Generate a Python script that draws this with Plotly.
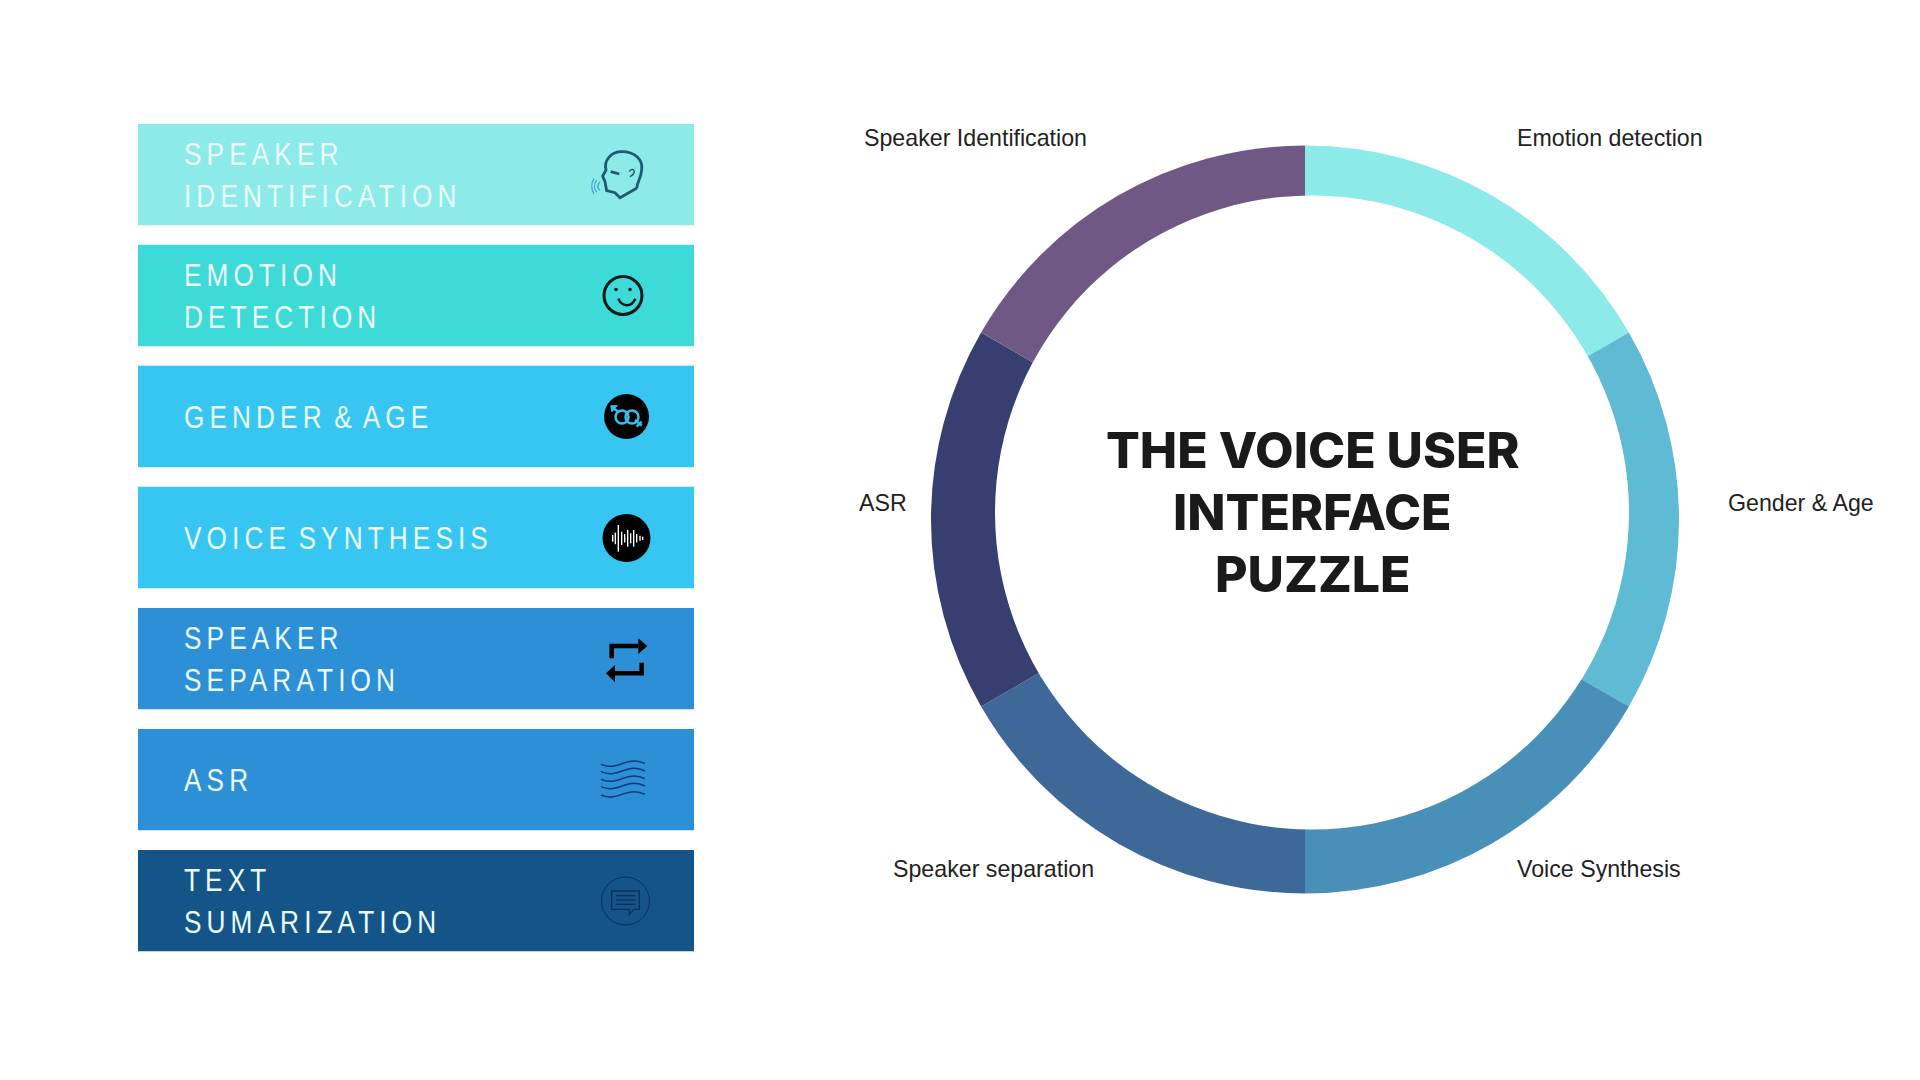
import plotly.graph_objects as go

W = 1920
H = 1080

# left column tiles
tile_labels = ["SPEAKER<br>IDENTIFICATION", "EMOTION<br>DETECTION", "GENDER & AGE", "VOICE SYNTHESIS",
               "SPEAKER<br>SEPARATION", "ASR", "TEXT<br>SUMARIZATION"]
tile_values = [1, 1, 1, 1, 1, 1, 1]
tile_colors = ["#8ceae8", "#3edad7", "#37c6f1", "#37c6f1", "#2d8fd5", "#2d8fd5", "#155489"]

# ring slices, clockwise from 12 o'clock
ring_labels = ["Emotion detection", "Gender & Age", "Voice Synthesis",
               "Speaker separation", "ASR", "Speaker Identification"]
ring_values = [1, 1, 1, 1, 1, 1]
ring_colors = ["#8ceae8", "#5fbad3", "#4890b7", "#3e6898", "#373f70", "#705885"]

title_lines = ["THE VOICE USER", "INTERFACE", "PUZZLE"]


def px(x, y):
    return x / W, 1 - y / H


def icon_path(ox, oy, s):
    # path written in 3x crop coordinates, converted to paper fractions
    out = []
    nums = []
    for tok in s.split():
        if tok.isalpha():
            out.append(tok)
        else:
            nums.append(float(tok))
            if len(nums) == 2:
                a, b = px(ox + nums[0] / 3, oy + nums[1] / 3)
                out.append(f"{a:.5f},{b:.5f}")
                nums = []
    return " ".join(out)


def line_shape(path, color, width, fill=None):
    d = dict(type="path", xref="paper", yref="paper", path=path, layer="above",
             line=dict(color=color, width=width))
    if fill:
        d["fillcolor"] = fill
    return d


def circle(cx, cy, r, fill=None, color=None, width=0):
    x0, y0 = px(cx - r, cy - r)
    x1, y1 = px(cx + r, cy + r)
    return dict(type="circle", xref="paper", yref="paper", x0=x0, y0=y0, x1=x1, y1=y1, layer="above",
                fillcolor=fill if fill else "rgba(0,0,0,0)",
                line=dict(color=color if color else "rgba(0,0,0,0)", width=width))


fig = go.Figure()

fig.add_trace(go.Bar(y=tile_labels, x=tile_values, orientation="h", marker=dict(color=tile_colors, line=dict(width=0)),
                     showlegend=False, hoverinfo="skip"))

cx, cy, R = 1305, 519.5, 374
fig.add_trace(go.Pie(labels=ring_labels, values=ring_values, sort=False, direction="clockwise", rotation=0,
                     marker=dict(colors=ring_colors, line=dict(width=0)), textinfo="none", showlegend=False,
                     hoverinfo="skip",
                     domain=dict(x=[(cx - R) / W, (cx + R) / W], y=[1 - (cy + R) / H, 1 - (cy - R) / H])))

shapes = [circle(1312, 512.5, 317, fill="#ffffff")]

# speaker head
head = "#1d5a72"
shapes.append(line_shape(icon_path(580, 150, "M 170 115 L 120 143 L 105 128 L 80 122 L 75 95 L 68 78 L 78 60 "
                                             "C 70 30 95 5 125 5 C 165 5 190 30 185 60 C 183 85 172 95 170 115"), head, 2.8))
shapes.append(line_shape(icon_path(580, 150, "M 92 65 L 118 72"), head, 2.8))
shapes.append(line_shape(icon_path(580, 150, "M 148 65 C 155 52 168 60 160 72 C 156 78 152 78 150 80"), head, 1.5))
shapes.append(line_shape(icon_path(580, 150, "M 60 95 C 52 105 52 115 60 122"), "#3f9fd0", 1.2))
shapes.append(line_shape(icon_path(580, 150, "M 50 90 C 42 103 42 118 50 127"), "#3f9fd0", 1.2))
shapes.append(line_shape(icon_path(580, 150, "M 42 85 C 33 100 33 120 42 132"), "#3f9fd0", 1.2))

# smile
shapes.append(circle(623, 295.5, 19, color="#0b1a1c", width=3))
shapes.append(circle(616, 289.5, 1.8, fill="#0b1a1c"))
shapes.append(circle(630, 289.5, 1.8, fill="#0b1a1c"))
shapes.append(line_shape(icon_path(590, 250, "M 85 146 C 95 172 125 172 136 146"), "#0b1a1c", 2.5))

# gender
shapes.append(circle(626.5, 416.5, 22.5, fill="#000000"))
g = "#38bdea"
shapes.append(circle(622, 417, 6.5, color=g, width=2.5))
shapes.append(circle(632, 417, 6.5, color=g, width=2.5))
shapes.append(line_shape(icon_path(590, 375, "M 85 110 L 68 98"), g, 2.5))
shapes.append(line_shape(icon_path(590, 375, "M 62 92 L 82 92 L 66 110 Z"), g, 1, fill=g))
shapes.append(line_shape(icon_path(590, 375, "M 135 135 L 155 152 M 140 155 L 155 140"), g, 2.5))

# voice
shapes.append(circle(626.5, 538, 24, fill="#000000"))
bar_xs = [68, 76, 85, 95, 104, 113, 122, 131, 140, 150, 158]
bar_hs = [20, 35, 80, 40, 25, 50, 30, 50, 25, 15, 10]
for bx, bh in zip(bar_xs, bar_hs):
    shapes.append(line_shape(icon_path(590, 500, f"M {bx} {115 - bh / 2} L {bx} {115 + bh / 2}"), "#ffffff", 1.4))

# arrows
shapes.append(line_shape(icon_path(590, 620, "M 65 115 L 65 78 L 145 78"), "#000000", 4.5))
shapes.append(line_shape(icon_path(590, 620, "M 145 55 L 172 78 L 145 102 Z"), "#000000", 0, fill="#000000"))
shapes.append(line_shape(icon_path(590, 620, "M 155 128 L 155 160 L 75 160"), "#000000", 4.5))
shapes.append(line_shape(icon_path(590, 620, "M 75 135 L 48 160 L 75 187 Z"), "#000000", 0, fill="#000000"))

# waves
for wy in [58, 80, 103, 125, 150]:
    shapes.append(line_shape(icon_path(590, 745, f"M 33 {wy} C 60 {wy + 12} 80 {wy + 4} 105 {wy - 5} "
                                                 f"C 125 {wy - 12} 145 {wy - 12} 165 {wy - 2}"), "#0c3a75", 1.5))

# chat
c = "#0c2f5e"
shapes.append(circle(625.5, 901, 24, color=c, width=1))
shapes.append(line_shape(icon_path(590, 865, "M 65 78 L 148 78 L 148 133 L 132 133 L 118 148 L 118 133 L 65 133 Z"), c, 1.3))
for ly in [92, 105, 118]:
    shapes.append(line_shape(icon_path(590, 865, f"M 78 {ly} L 135 {ly}"), c, 1.3))

annotations = []
for lab in tile_labels:
    annotations.append(dict(x=0.0785, y=lab, xref="x", yref="y", text=lab, showarrow=False, xanchor="left",
                            yanchor="middle", align="left", yshift=-0.5,
                            font=dict(family="Liberation Sans", size=32, color="#eafcfb")))

ring_label_pos = [(1514.5, 138), (1726, 503), (1515, 869), (890.5, 869), (856.5, 503), (862, 138)]
for lab, (lx, ly) in zip(ring_labels, ring_label_pos):
    a, b = px(lx, ly)
    annotations.append(dict(x=a, y=b, xref="paper", yref="paper", text=lab, showarrow=False, xanchor="left",
                            yanchor="middle", font=dict(family="Liberation Sans", size=23.2, color="#222222")))

title_ys = [450, 511.5, 573.5]
for line, ty in zip(title_lines, title_ys):
    a, b = px(1312.5, ty)
    annotations.append(dict(x=a, y=b, xref="paper", yref="paper", text=line, showarrow=False, xanchor="center",
                            yanchor="middle", font=dict(family="Inter", size=50, color="#1a1a1a", weight=800)))

fig.update_layout(
    width=W, height=H, margin=dict(l=0, r=0, t=0, b=0),
    paper_bgcolor="#ffffff", plot_bgcolor="#ffffff",
    bargap=0.162,
    xaxis=dict(domain=[138 / W, 694 / W], range=[0, 1], visible=False, fixedrange=True),
    yaxis=dict(domain=[1 - 951.4 / H, 1 - 123.7 / H], range=[6.419, -0.419], visible=False, type="category",
               categoryorder="array", categoryarray=tile_labels, fixedrange=True),
    shapes=shapes, annotations=annotations,
)

# the tile font is a narrow one with wide tracking: squeeze the text and add letter spacing after drawing
post = """
document.body.style.margin = '0';
document.body.style.overflow = 'hidden';
document.querySelectorAll('.annotation').forEach(function (el) {
    if (parseInt(el.getAttribute('data-index')) < 7) {
        var t = el.querySelector('text');
        var x = parseFloat(t.getAttribute('x'));
        t.style.letterSpacing = '6.2px';
        t.style.wordSpacing = '-6px';
        t.setAttribute('transform', 'translate(' + (x * 0.18) + ',0) scale(0.82,1)');
    }
});
"""
fig.write_html("out.html", post_script=post, config=dict(displayModeBar=False))
